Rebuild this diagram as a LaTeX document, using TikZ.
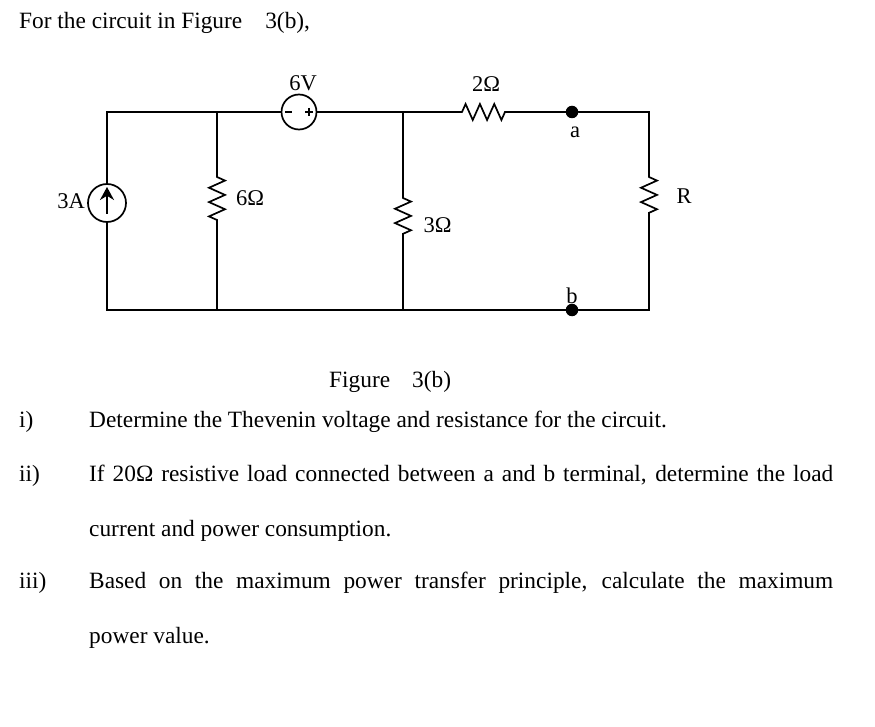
\documentclass[tikz,border=0pt]{standalone}
\usepackage{fontspec}
\setmainfont{Liberation Serif}
\usetikzlibrary{decorations.pathmorphing,arrows.meta}
\tikzset{
  x=1pt,y=-1pt,
  wire/.style={line width=1.7pt,line cap=round,line join=miter},
  res/.style={decorate,decoration={zigzag,segment length=#1/3,amplitude=8pt,pre length=0pt,post length=0pt}},
  res/.default=43pt,
  source/.style={circle,draw,line width=1.7pt,minimum size=#1,inner sep=0pt,fill=white},
  terminal/.style={circle,fill=black,minimum size=12.5pt,inner sep=0pt},
  txt/.style={anchor=base west,inner sep=0pt,font=\fontsize{23.35}{23.35}\selectfont},
  lbl/.style={inner sep=0pt,font=\fontsize{22.5}{22.5}\selectfont},
}
\newcommand{\just}[2]{\makebox[#1][s]{#2}}
\begin{document}
\begin{tikzpicture}
\useasboundingbox[fill=white] (0,0) rectangle (875,727);
% junctions and corners
\coordinate (tl) at (107,112);
\coordinate (bl) at (107,310);
\coordinate (t6) at (217,112);
\coordinate (b6) at (217,310);
\coordinate (t3) at (403,112);
\coordinate (b3) at (403,310);
\coordinate (tr) at (649,112);
\coordinate (br) at (649,310);
\coordinate (r6a) at (217,177);
\coordinate (r6b) at (217,220);
\coordinate (r3a) at (403,198);
\coordinate (r3b) at (403,240);
\coordinate (r2a) at (462,112);
\coordinate (r2b) at (505,112);
\coordinate (rRa) at (649,177);
\coordinate (rRb) at (649,218);
\node[terminal] (a) at (572,112) {};
\node[terminal] (b) at (572,310) {};
\node[source=38pt] (cs) at (107,203) {};
\node[source=35pt] (vs) at (299,112) {};
% wires
\draw[wire] (cs.north) -- (tl) -- (t6) -- (vs.west);
\draw[wire] (vs.east) -- (t3) -- (r2a);
\draw[wire,res] (r2a) -- (r2b);
\draw[wire] (r2b) -- (a) -- (tr) -- (rRa);
\draw[wire,res] (rRa) -- (rRb);
\draw[wire] (rRb) -- (br) -- (b) -- (bl) -- (cs.south);
\draw[wire] (t6) -- (r6a);
\draw[wire,res] (r6a) -- (r6b);
\draw[wire] (r6b) -- (b6);
\draw[wire] (t3) -- (r3a);
\draw[wire,res] (r3a) -- (r3b);
\draw[wire] (r3b) -- (b3);
% source symbols
\coordinate (csT) at (107,214);
\coordinate (csH) at (107,187);
\draw[line width=1.8pt,-{Stealth[length=13pt,width=14pt]}] (csT) -- (csH);
\draw[line width=1.7pt] (285,112) -- (292,112);
\draw[line width=1.7pt] (305,112) -- (313,112) (309,108) -- (309,116);
% component labels
\node[lbl] (l6v) at (303,83) {6V};
\node[lbl] (l2) at (486,84) {2Ω};
\node[lbl] (l3a) at (71,201) {3A};
\node[lbl] (l6) at (250,198) {6Ω};
\node[lbl] (l3) at (437.5,225) {3Ω};
\node[lbl] (la) at (575,132) {a};
\node[lbl] (lb) at (572,296) {b};
\node[lbl] (lR) at (684,196) {R};
% text
\node[txt] (t0) at (19,29) {For the circuit in Figure\hspace{23pt}3(b),};
\node[txt] (t1) at (329,387) {Figure\hspace{22pt}3(b)};
\node[txt] (n1) at (19,427) {i)};
\node[txt] (p1) at (89,427) {Determine the Thevenin voltage and resistance for the circuit.};
\node[txt] (n2) at (19,481) {ii)};
\node[txt] (p2) at (89,481) {\just{744pt}{If 20Ω resistive load connected between a and b terminal, determine the load}};
\node[txt] (p3) at (89,536) {current and power consumption.};
\node[txt] (n3) at (19,588) {iii)};
\node[txt] (p4) at (89,588) {\just{744pt}{Based on the maximum power transfer principle, calculate the maximum}};
\node[txt] (p5) at (89,643) {power value.};
\end{tikzpicture}
\end{document}
